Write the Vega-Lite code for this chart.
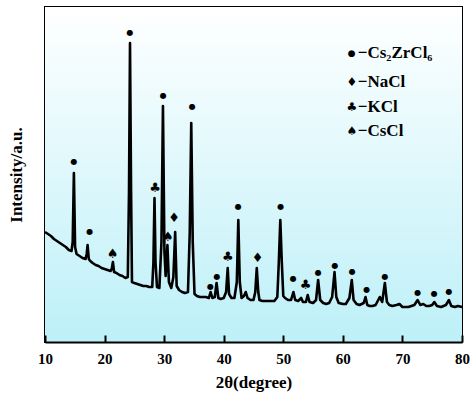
{
  "$schema": "https://vega.github.io/schema/vega-lite/v6.json",
  "autosize": {"type": "none"},
  "padding": {"left": 45, "top": 7, "right": 12, "bottom": 56},
  "width": 417,
  "height": 335,
  "config": {
    "view": {"stroke": "#000000", "strokeWidth": 2},
    "font": "Liberation Serif"
  },
  "layer": [
    {
      "data": {"values": [{"t0": 10, "t1": 80, "v0": 0, "v1": 335}]},
      "mark": {
        "type": "rect",
        "color": {
          "gradient": "linear", "x1": 0, "y1": 0, "x2": 0, "y2": 1,
          "stops": [{"offset": 0, "color": "#ffffff"}, {"offset": 1, "color": "#bdf0f8"}]
        }
      },
      "encoding": {
        "x": {
          "field": "t0", "type": "quantitative",
          "scale": {"domain": [10, 80], "nice": false, "zero": false},
          "axis": {
            "title": "2θ(degree)",
            "zindex": 2,
            "values": [10, 15, 20, 25, 30, 35, 40, 45, 50, 55, 60, 65, 70, 75, 80],
            "labelExpr": "datum.value % 10 === 0 ? datum.label : ''",
            "tickSize": {"condition": {"test": "datum.value % 10 === 0", "value": -7}, "value": -3},
            "tickColor": "#000000",
            "tickWidth": 2,
            "domainColor": "#000000",
            "domainWidth": 2,
            "grid": false,
            "labelFont": "Liberation Serif",
            "labelFontSize": 15,
            "labelFontWeight": "bold",
            "labelColor": "#000000",
            "labelPadding": 16,
            "labelFlush": false,
            "titleFont": "Liberation Serif",
            "titleFontSize": 17,
            "titleFontWeight": "bold",
            "titleColor": "#000000",
            "titlePadding": 8
          }
        },
        "x2": {"field": "t1"},
        "y": {
          "field": "v0", "type": "quantitative",
          "scale": {"domain": [0, 335], "nice": false, "zero": false},
          "axis": {
            "title": "Intensity/a.u.",
            "ticks": false,
            "labels": false,
            "domain": false,
            "grid": false,
            "titleFont": "Liberation Serif",
            "titleFontSize": 17,
            "titleFontWeight": "bold",
            "titleColor": "#000000",
            "titlePadding": 20
          }
        },
        "y2": {"field": "v1"}
      }
    },
    {
      "data": {"values": [
        {"t": 10.0, "v": 110}, {"t": 10.5, "v": 108}, {"t": 11.0, "v": 106}, {"t": 11.5, "v": 103},
        {"t": 12.0, "v": 101}, {"t": 12.5, "v": 99}, {"t": 13.0, "v": 97}, {"t": 13.5, "v": 95},
        {"t": 14.0, "v": 92}, {"t": 14.45, "v": 91}, {"t": 14.65, "v": 100}, {"t": 14.85, "v": 169},
        {"t": 15.05, "v": 95}, {"t": 15.3, "v": 88}, {"t": 15.8, "v": 86}, {"t": 16.3, "v": 84},
        {"t": 16.8, "v": 83}, {"t": 17.0, "v": 88}, {"t": 17.15, "v": 97}, {"t": 17.35, "v": 83},
        {"t": 17.6, "v": 81}, {"t": 18.0, "v": 79}, {"t": 18.5, "v": 77}, {"t": 19.0, "v": 76},
        {"t": 19.5, "v": 74}, {"t": 20.0, "v": 73}, {"t": 20.5, "v": 72}, {"t": 21.0, "v": 71},
        {"t": 21.2, "v": 73}, {"t": 21.4, "v": 80}, {"t": 21.6, "v": 70}, {"t": 22.0, "v": 69},
        {"t": 22.5, "v": 67}, {"t": 23.0, "v": 66}, {"t": 23.5, "v": 64}, {"t": 23.9, "v": 65},
        {"t": 24.1, "v": 150}, {"t": 24.27, "v": 299}, {"t": 24.45, "v": 150}, {"t": 24.6, "v": 60},
        {"t": 25.0, "v": 59}, {"t": 25.5, "v": 58}, {"t": 26.0, "v": 57}, {"t": 26.5, "v": 56},
        {"t": 27.0, "v": 56}, {"t": 27.5, "v": 55}, {"t": 28.0, "v": 55}, {"t": 28.2, "v": 80},
        {"t": 28.38, "v": 144}, {"t": 28.55, "v": 80}, {"t": 28.8, "v": 55}, {"t": 29.2, "v": 54},
        {"t": 29.55, "v": 100}, {"t": 29.8, "v": 236}, {"t": 30.05, "v": 90}, {"t": 30.25, "v": 66},
        {"t": 30.55, "v": 97}, {"t": 30.8, "v": 60}, {"t": 31.2, "v": 54}, {"t": 31.55, "v": 65},
        {"t": 31.85, "v": 110}, {"t": 32.1, "v": 56}, {"t": 32.5, "v": 52}, {"t": 33.0, "v": 50},
        {"t": 33.5, "v": 49}, {"t": 34.0, "v": 50}, {"t": 34.3, "v": 110}, {"t": 34.55, "v": 219},
        {"t": 34.8, "v": 100}, {"t": 35.1, "v": 48}, {"t": 35.5, "v": 46}, {"t": 36.0, "v": 45},
        {"t": 36.5, "v": 45}, {"t": 37.0, "v": 45}, {"t": 37.5, "v": 44}, {"t": 37.8, "v": 50},
        {"t": 38.1, "v": 44}, {"t": 38.5, "v": 45}, {"t": 38.8, "v": 59}, {"t": 39.1, "v": 44},
        {"t": 39.5, "v": 43}, {"t": 40.0, "v": 44}, {"t": 40.4, "v": 50}, {"t": 40.67, "v": 74},
        {"t": 40.9, "v": 48}, {"t": 41.3, "v": 44}, {"t": 41.8, "v": 44}, {"t": 42.2, "v": 60},
        {"t": 42.45, "v": 122}, {"t": 42.7, "v": 60}, {"t": 43.0, "v": 44}, {"t": 43.4, "v": 46},
        {"t": 43.7, "v": 50}, {"t": 44.0, "v": 44}, {"t": 44.5, "v": 42}, {"t": 45.0, "v": 42},
        {"t": 45.3, "v": 50}, {"t": 45.55, "v": 74}, {"t": 45.8, "v": 50}, {"t": 46.0, "v": 42},
        {"t": 46.5, "v": 41}, {"t": 47.0, "v": 41}, {"t": 47.5, "v": 41}, {"t": 48.0, "v": 41},
        {"t": 48.5, "v": 41}, {"t": 49.0, "v": 45}, {"t": 49.25, "v": 80}, {"t": 49.5, "v": 122},
        {"t": 49.75, "v": 80}, {"t": 50.0, "v": 46}, {"t": 50.3, "v": 44}, {"t": 50.8, "v": 42},
        {"t": 51.3, "v": 42}, {"t": 51.7, "v": 50}, {"t": 52.0, "v": 42}, {"t": 52.5, "v": 41},
        {"t": 53.0, "v": 44}, {"t": 53.3, "v": 40}, {"t": 53.8, "v": 40}, {"t": 54.1, "v": 47},
        {"t": 54.4, "v": 40}, {"t": 55.0, "v": 39}, {"t": 55.5, "v": 42}, {"t": 55.85, "v": 62},
        {"t": 56.2, "v": 42}, {"t": 56.7, "v": 39}, {"t": 57.2, "v": 38}, {"t": 57.7, "v": 39},
        {"t": 58.2, "v": 45}, {"t": 58.6, "v": 70}, {"t": 58.9, "v": 45}, {"t": 59.3, "v": 39},
        {"t": 60.0, "v": 38}, {"t": 60.5, "v": 38}, {"t": 61.1, "v": 44}, {"t": 61.5, "v": 62},
        {"t": 61.8, "v": 42}, {"t": 62.3, "v": 38}, {"t": 62.8, "v": 37}, {"t": 63.5, "v": 39},
        {"t": 63.8, "v": 45}, {"t": 64.1, "v": 37}, {"t": 64.5, "v": 36}, {"t": 65.0, "v": 36},
        {"t": 65.5, "v": 37}, {"t": 66.2, "v": 45}, {"t": 66.6, "v": 40}, {"t": 67.05, "v": 59},
        {"t": 67.4, "v": 40}, {"t": 67.8, "v": 37}, {"t": 68.3, "v": 36}, {"t": 69.0, "v": 37},
        {"t": 69.5, "v": 38}, {"t": 70.0, "v": 35}, {"t": 70.5, "v": 35}, {"t": 71.0, "v": 35},
        {"t": 71.5, "v": 36}, {"t": 72.0, "v": 37}, {"t": 72.55, "v": 42}, {"t": 73.0, "v": 37},
        {"t": 73.5, "v": 38}, {"t": 74.0, "v": 36}, {"t": 74.5, "v": 36}, {"t": 75.0, "v": 37},
        {"t": 75.35, "v": 40}, {"t": 75.8, "v": 36}, {"t": 76.5, "v": 35}, {"t": 77.3, "v": 37},
        {"t": 77.8, "v": 42}, {"t": 78.2, "v": 36}, {"t": 78.8, "v": 35}, {"t": 79.3, "v": 36},
        {"t": 80.0, "v": 35}
      ]},
      "mark": {"type": "line", "color": "#000000", "strokeWidth": 2.6, "strokeJoin": "round"},
      "encoding": {
        "x": {"field": "t", "type": "quantitative"},
        "y": {"field": "v", "type": "quantitative"}
      }
    },
    {
      "data": {"values": [
        {"t": 14.85, "v": 180, "s": "●"}, {"t": 17.5, "v": 110, "s": "●"},
        {"t": 21.36, "v": 88, "s": "♠"}, {"t": 24.27, "v": 309, "s": "●"},
        {"t": 28.47, "v": 154, "s": "♣"}, {"t": 29.86, "v": 246, "s": "●"},
        {"t": 30.6, "v": 105, "s": "♠"}, {"t": 31.65, "v": 124, "s": "♦"},
        {"t": 34.73, "v": 235, "s": "●"}, {"t": 37.8, "v": 55, "s": "●"},
        {"t": 38.87, "v": 65, "s": "●"}, {"t": 40.67, "v": 85, "s": "♣"},
        {"t": 42.45, "v": 135, "s": "●"}, {"t": 45.7, "v": 84, "s": "♦"},
        {"t": 49.57, "v": 135, "s": "●"}, {"t": 51.68, "v": 63, "s": "●"},
        {"t": 53.76, "v": 57, "s": "♣"}, {"t": 55.88, "v": 69, "s": "●"},
        {"t": 58.68, "v": 76, "s": "●"}, {"t": 61.59, "v": 70, "s": "●"},
        {"t": 64.0, "v": 52, "s": "●"}, {"t": 67.08, "v": 65, "s": "●"},
        {"t": 72.56, "v": 49, "s": "●"}, {"t": 75.35, "v": 48, "s": "●"},
        {"t": 77.82, "v": 50, "s": "●"}
      ]},
      "mark": {"type": "text", "font": "DejaVu Sans", "baseline": "middle", "align": "center", "color": "#000000"},
      "encoding": {
        "x": {"field": "t", "type": "quantitative"},
        "y": {"field": "v", "type": "quantitative"},
        "text": {"field": "s"},
        "size": {"condition": {"test": "datum.s === '●'", "value": 8}, "value": 13}
      }
    },
    {
      "data": {"values": [
        {"t": 61.5, "v": 289, "s": "●", "label": "−Cs₂ZrCl₆"},
        {"t": 61.5, "v": 260, "s": "♦", "label": "−NaCl"},
        {"t": 61.5, "v": 235, "s": "♣", "label": "−KCl"},
        {"t": 61.5, "v": 211, "s": "♠", "label": "−CsCl"}
      ]},
      "layer": [
        {
          "mark": {"type": "text", "font": "DejaVu Sans", "baseline": "middle", "align": "center", "color": "#000000"},
          "encoding": {
            "x": {"field": "t", "type": "quantitative"},
            "y": {"field": "v", "type": "quantitative"},
            "text": {"field": "s"},
            "size": {"condition": {"test": "datum.s === '●'", "value": 9}, "value": 12}
          }
        },
        {
          "mark": {"type": "text", "font": "Liberation Serif", "fontSize": 17, "fontWeight": "bold", "baseline": "middle", "align": "left", "dx": 6, "color": "#000000"},
          "encoding": {
            "x": {"field": "t", "type": "quantitative"},
            "y": {"field": "v", "type": "quantitative"},
            "text": {"field": "label"}
          }
        }
      ]
    }
  ]
}
